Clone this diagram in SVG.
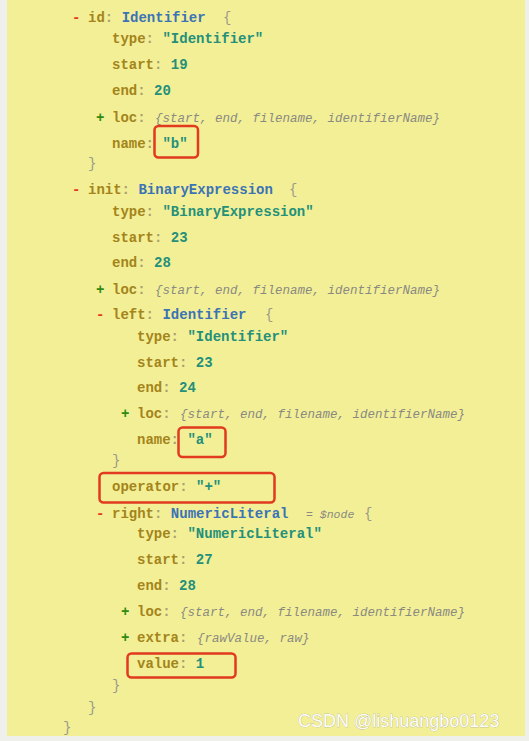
<svg xmlns="http://www.w3.org/2000/svg" width="529" height="741" viewBox="0 0 529 741">
<style>
text{font-family:"Liberation Mono","DejaVu Sans Mono",monospace;font-size:14px;font-weight:bold;}
.k{fill:#a3841a;}
.c{fill:#a8a070;}
.t{fill:#3b73b5;}
.s{fill:#24907a;}
.n{fill:#24907a;}
.g{fill:#8a8a80;font-style:italic;font-size:12.5px;font-weight:normal;}
.b{fill:#9a9a88;font-weight:normal;}
.m{fill:#e23a1e;}
.p{fill:#2f8a10;}
.box{fill:none;stroke:#e23a1e;stroke-width:2.5;}
.wm{font-family:"Liberation Sans",Arial,sans-serif;font-size:18px;font-weight:normal;fill:#fdfdf8;stroke:#9a9a9a;stroke-width:0.45;paint-order:stroke;}
</style>
<rect x="0" y="0" width="529" height="741" fill="#efefec"/>
<rect x="7" y="0" width="518" height="736" fill="#f3ef97"/>

<g id="id-node">
<text x="72" y="22" class="m">-</text>
<text x="88" y="22"><tspan class="k">id</tspan><tspan class="c">:</tspan> <tspan class="t">Identifier</tspan></text>
<text x="223" y="22" class="b">{</text>
<text x="112" y="43"><tspan class="k">type</tspan><tspan class="c">:</tspan> <tspan class="s">"Identifier"</tspan></text>
<text x="112" y="69"><tspan class="k">start</tspan><tspan class="c">:</tspan> <tspan class="n">19</tspan></text>
<text x="112" y="95"><tspan class="k">end</tspan><tspan class="c">:</tspan> <tspan class="n">20</tspan></text>
<text x="96" y="122" class="p">+</text>
<text x="112" y="122"><tspan class="k">loc</tspan><tspan class="c">:</tspan></text>
<text x="155" y="122" class="g">{start, end, filename, identifierName}</text>
<text x="112" y="148"><tspan class="k">name</tspan><tspan class="c">:</tspan> <tspan class="s">"b"</tspan></text>
<text x="88" y="168" class="b">}</text>
</g>

<g id="init-node">
<text x="72" y="194" class="m">-</text>
<text x="88" y="194"><tspan class="k">init</tspan><tspan class="c">:</tspan> <tspan class="t">BinaryExpression</tspan></text>
<text x="289" y="194" class="b">{</text>
<text x="112" y="216"><tspan class="k">type</tspan><tspan class="c">:</tspan> <tspan class="s">"BinaryExpression"</tspan></text>
<text x="112" y="242"><tspan class="k">start</tspan><tspan class="c">:</tspan> <tspan class="n">23</tspan></text>
<text x="112" y="267"><tspan class="k">end</tspan><tspan class="c">:</tspan> <tspan class="n">28</tspan></text>
<text x="96" y="294" class="p">+</text>
<text x="112" y="294"><tspan class="k">loc</tspan><tspan class="c">:</tspan></text>
<text x="155" y="294" class="g">{start, end, filename, identifierName}</text>
</g>

<g id="left-node">
<text x="96" y="319" class="m">-</text>
<text x="112" y="319"><tspan class="k">left</tspan><tspan class="c">:</tspan> <tspan class="t">Identifier</tspan></text>
<text x="265" y="319" class="b">{</text>
<text x="137" y="341"><tspan class="k">type</tspan><tspan class="c">:</tspan> <tspan class="s">"Identifier"</tspan></text>
<text x="137" y="367"><tspan class="k">start</tspan><tspan class="c">:</tspan> <tspan class="n">23</tspan></text>
<text x="137" y="392"><tspan class="k">end</tspan><tspan class="c">:</tspan> <tspan class="n">24</tspan></text>
<text x="121" y="418" class="p">+</text>
<text x="137" y="418"><tspan class="k">loc</tspan><tspan class="c">:</tspan></text>
<text x="180" y="418" class="g">{start, end, filename, identifierName}</text>
<text x="137" y="444"><tspan class="k">name</tspan><tspan class="c">:</tspan> <tspan class="s">"a"</tspan></text>
<text x="112" y="465" class="b">}</text>
</g>

<g id="operator">
<text x="112" y="491"><tspan class="k">operator</tspan><tspan class="c">:</tspan> <tspan class="s">"+"</tspan></text>
</g>

<g id="right-node">
<text x="96" y="518" class="m">-</text>
<text x="112" y="518"><tspan class="k">right</tspan><tspan class="c">:</tspan> <tspan class="t">NumericLiteral</tspan></text>
<text x="306" y="518" class="g" style="font-size:11.5px">= $node</text>
<text x="364" y="518" class="b">{</text>
<text x="137" y="538"><tspan class="k">type</tspan><tspan class="c">:</tspan> <tspan class="s">"NumericLiteral"</tspan></text>
<text x="137" y="564"><tspan class="k">start</tspan><tspan class="c">:</tspan> <tspan class="n">27</tspan></text>
<text x="137" y="590"><tspan class="k">end</tspan><tspan class="c">:</tspan> <tspan class="n">28</tspan></text>
<text x="121" y="616" class="p">+</text>
<text x="137" y="616"><tspan class="k">loc</tspan><tspan class="c">:</tspan></text>
<text x="180" y="616" class="g">{start, end, filename, identifierName}</text>
<text x="121" y="642" class="p">+</text>
<text x="137" y="642"><tspan class="k">extra</tspan><tspan class="c">:</tspan></text>
<text x="197" y="642" class="g">{rawValue, raw}</text>
<text x="137" y="668"><tspan class="k">value</tspan><tspan class="c">:</tspan> <tspan class="n">1</tspan></text>
<text x="112" y="690" class="b">}</text>
</g>

<g id="closing">
<text x="88" y="712" class="b">}</text>
<text x="63" y="732" class="b">}</text>
</g>

<g id="highlights">
<rect class="box" x="154.5" y="126" width="43.5" height="31.5" rx="4"/>
<rect class="box" x="178.5" y="427.5" width="47" height="29.5" rx="4"/>
<rect class="box" x="99.5" y="473" width="175" height="29.5" rx="4"/>
<rect class="box" x="127.5" y="653.5" width="108" height="24" rx="4"/>
</g>

<text x="298" y="727" class="wm">CSDN @lishuangbo0123</text>
</svg>
